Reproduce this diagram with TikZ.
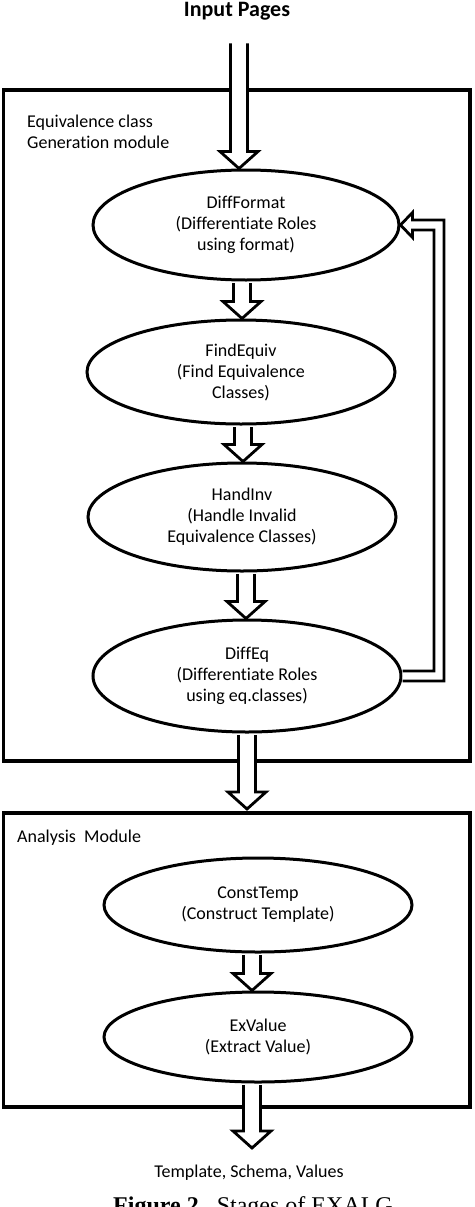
\documentclass[tikz,border=0pt]{standalone}
\usepackage{fontspec}
\setmainfont{Carlito}[Ligatures={NoCommon}]
\newfontfamily\capfont{Liberation Serif}
\usetikzlibrary{shapes.geometric,calc}
\tikzset{
  stage/.style={draw, ellipse, line width=3pt, inner sep=0pt, align=center,
    font=\fontsize{18}{21}\selectfont},
  modbox/.style={draw, line width=3.5pt, inner sep=0pt},
  barrow/.style={draw, fill=white, line width=2.8pt, line join=miter},
  lbl/.style={font=\fontsize{18}{21}\selectfont, inner sep=0pt},
}
\newcommand\blockarrow[2]{%
  \draw[barrow] let \p1=(#1), \p2=(#2) in
    (\x2-8.5pt,\y1-1.5pt) -- (\x2-8.5pt,\y2+17pt) -- (\x2-19pt,\y2+17pt) -- (\x2,\y2)
    -- (\x2+19pt,\y2+17pt) -- (\x2+8.5pt,\y2+17pt) -- (\x2+8.5pt,\y1-1.5pt);}
\begin{document}
\begin{tikzpicture}[x=1pt,y=-1pt]
\useasboundingbox (0,0) rectangle (474,1207);
% modules
\node[modbox, minimum width=466.5pt, minimum height=671pt] (box1) at (236.75,425.5) {};
\node[modbox, minimum width=466.5pt, minimum height=294pt] (box2) at (236.75,960) {};
% labels
\node[font=\fontsize{22}{26}\bfseries, inner sep=0pt, anchor=base] (title) at (237,17) {Input Pages};
\node[lbl, align=left, anchor=base west] (l1) at (27,148) {Equivalence class\\Generation module};
\node[lbl, anchor=base west] (l2) at (17,842) {Analysis\ \ Module};
% stages
\node[stage, minimum width=306pt, minimum height=110pt] (e1) at (246,225)
  {DiffFormat\\(Differentiate Roles\\using format)};
\node[stage, minimum width=308pt, minimum height=104pt] (e2) at (241,372)
  {FindEquiv\\(Find Equivalence\\Classes)};
\node[stage, minimum width=308pt, minimum height=108pt] (e3) at (242,517)
  {HandInv\\(Handle Invalid\\Equivalence Classes)};
\node[stage, minimum width=308pt, minimum height=112pt] (e4) at (247,676)
  {DiffEq\\(Differentiate Roles\\using eq.classes)};
\node[stage, minimum width=308pt, minimum height=94pt] (e5) at (258,905)
  {ConstTemp\\(Construct Template)};
\node[stage, minimum width=308pt, minimum height=90pt] (e6) at (258,1037)
  {ExValue\\(Extract Value)};
% outputs
\node[lbl, anchor=base] (outtext) at (249,1177) {Template, Schema, Values};
\node[font=\capfont\fontsize{24}{28}\selectfont, inner sep=0pt, anchor=base] (cap) at (253,1213)
  {\textbf{Figure 2.}\ \ Stages of EXALG};
% free ends
\coordinate (in) at (239,42);
\coordinate (b2in) at (247,809);
\coordinate (out) at (252,1148);
% arrows
\blockarrow{in}{[xshift=-7pt]e1.north}
\blockarrow{e1.south}{[xshift=1pt]e2.north}
\blockarrow{e2.south}{[xshift=1pt]e3.north}
\blockarrow{e3.south}{[xshift=-1pt]e4.north}
\blockarrow{e4.south}{b2in}
\blockarrow{e5.south}{[xshift=-6pt]e6.north}
\blockarrow{e6.south}{out}
% feedback
\draw[barrow] let \p1=(e4.east), \p2=(e1.east) in
  (\x1,\y1-5pt) -- (444pt,\y1-5pt) -- (444pt,\y2+5pt) -- (\x2+12pt,\y2+5pt)
  -- (\x2+12pt,\y2+12.5pt) -- (\x2,\y2) -- (\x2+12pt,\y2-12.5pt) -- (\x2+12pt,\y2-5pt)
  -- (434pt,\y2-5pt) -- (434pt,\y1+5pt) -- (\x1,\y1+5pt);
\end{tikzpicture}
\end{document}
